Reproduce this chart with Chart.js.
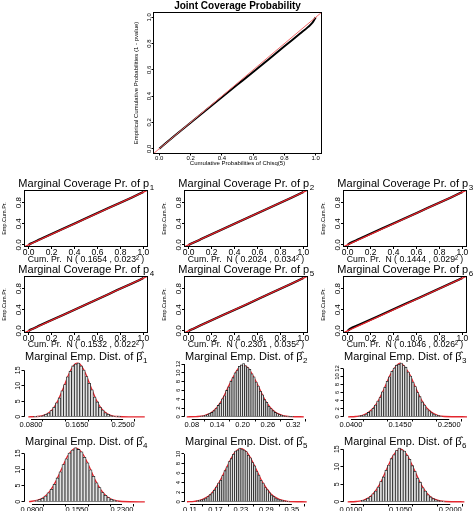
<!DOCTYPE html>
<html>
<head>
<meta charset="utf-8">
<script src="https://cdn.jsdelivr.net/npm/chart.js@4.4.1/dist/chart.umd.min.js"></script>
<style>
  body { margin: 0; background: #fff; width: 474px; height: 511px; position: relative; overflow: hidden; }
  .p { position: absolute; }
</style>
</head>
<body>
<script>
// ---- data ----
const jointCumX = [0, 0.1, 0.2, 0.3, 0.4, 0.5, 0.6, 0.7, 0.8, 0.9, 0.95, 0.98, 1.0];
const jointEmpY = [0, 0.1, 0.198, 0.295, 0.392, 0.488, 0.584, 0.681, 0.779, 0.876, 0.925, 0.96, 1.0];
const refLine = [-0.04, 1.04];
const unitTicks = [0, 0.2, 0.4, 0.6, 0.8, 1.0];
const covYTicks = [0, 0.4, 0.8];

const covCumX = [0, 0.02, 0.1, 0.3, 0.5, 0.7, 0.9, 1.0];
const covEmp1 = [0, 0.025, 0.105, 0.305, 0.503, 0.702, 0.9, 1.0];
const covEmp2 = [0, 0.02, 0.1, 0.3, 0.5, 0.7, 0.9, 1.0];
const covEmp3 = [0, 0.03, 0.11, 0.31, 0.505, 0.703, 0.9, 1.0];
const covEmp4 = [0, 0.025, 0.105, 0.303, 0.502, 0.701, 0.9, 1.0];
const covEmp5 = [0, 0.02, 0.1, 0.302, 0.497, 0.7, 0.9, 1.0];
const covEmp6 = [0, 0.035, 0.115, 0.312, 0.508, 0.705, 0.902, 1.0];
const covSubs = ['1', '2', '3', '4', '5', '6'];
const covXLabels = [
  'Cum. Pr.  N ( 0.1654 , 0.023² )', 'Cum. Pr.  N ( 0.2024 , 0.034² )', 'Cum. Pr.  N ( 0.1444 , 0.029² )',
  'Cum. Pr.  N ( 0.1532 , 0.022² )', 'Cum. Pr.  N ( 0.2301 , 0.035² )', 'Cum. Pr.  N ( 0.1046 , 0.026² )'
];

const binWidth = 0.005;
const histStart = [0.085, 0.10, 0.055, 0.085, 0.125, 0.03];
const hist1Counts = [0.05,0.1,0.2,0.4,0.8,1.2,2.0,3.1,4.5,6.1,8.4,10.4,12.9,14.7,16.4,17.0,17.3,16.4,15.1,13.0,10.8,8.7,6.4,4.8,3.1,2.2,1.3,0.8,0.4,0.25,0.1,0.05];
const hist2Counts = [0.15,0.25,0.35,0.5,0.8,1.0,1.4,1.9,2.6,3.1,4.1,4.8,6.0,6.8,8.1,8.9,10.0,10.5,11.5,11.8,12.1,11.6,11.2,10.8,9.8,9.1,7.9,7.0,5.8,5.0,3.9,3.3,2.4,1.9,1.4,1.0,0.75,0.5,0.35,0.25,0.15,0.1,0.06,0.04];
const hist3Counts = [0.2,0.3,0.45,0.7,1.1,1.5,2.1,2.9,3.9,4.8,6.2,7.3,8.8,9.9,11.3,12.1,12.8,13.0,13.3,12.7,12.3,11.1,10.1,8.6,7.5,6.0,5.0,3.7,2.9,2.0,1.5,1.0,0.7,0.45,0.3,0.2];
const hist4Counts = [0.4,0.7,1.1,1.8,2.8,3.9,5.4,7.4,9.3,11.5,13.3,15.1,16.0,16.7,16.2,15.5,13.8,12.1,9.9,7.9,5.9,4.4,2.9,2.0,1.3,0.8,0.45,0.25];
const hist5Counts = [0.2,0.3,0.4,0.6,0.8,1.1,1.5,1.9,2.4,3.1,3.9,4.5,5.5,6.5,7.3,8.4,9.0,9.9,10.6,10.8,11.2,11.0,10.8,10.5,9.7,9.2,8.2,7.5,6.3,5.6,4.5,3.9,3.0,2.5,1.9,1.4,1.1,0.8,0.6,0.4,0.3,0.2,0.13,0.08];
const hist6Counts = [0.4,0.6,1.0,1.5,2.3,3.1,4.2,5.8,7.1,9.0,10.5,12.3,13.4,14.6,15.3,14.8,14.5,13.2,12.1,10.3,8.7,6.8,5.6,4.0,3.1,2.0,1.4,0.9,0.6,0.35,0.2,0.1];

const curve1X = [0.075,0.09,0.10,0.11,0.12,0.13,0.14,0.15,0.16,0.165,0.17,0.18,0.19,0.20,0.21,0.22,0.23,0.24,0.26,0.29];
const curve1Y = [0.0,0.08,0.31,0.95,2.4,5.3,9.4,13.8,16.8,17.3,17.0,14.2,9.8,5.6,2.6,1.05,0.33,0.09,0.0,0.0];
const curve2X = [0.068,0.09,0.11,0.13,0.15,0.17,0.19,0.2024,0.215,0.235,0.255,0.275,0.295,0.315,0.345];
const curve2Y = [0.0,0.05,0.29,1.2,3.6,7.5,11.0,11.7,10.9,7.4,3.5,1.2,0.29,0.05,0.0];
const curve3X = [0.034,0.05,0.065,0.08,0.095,0.11,0.125,0.145,0.165,0.18,0.195,0.21,0.225,0.24,0.288];
const curve3Y = [0.0,0.09,0.37,1.3,3.3,6.7,10.6,13.3,10.6,6.7,3.3,1.3,0.37,0.09,0.0];
const curve4X = [0.075,0.09,0.10,0.11,0.12,0.13,0.14,0.1532,0.165,0.175,0.185,0.195,0.205,0.215,0.23,0.268];
const curve4Y = [0.08,0.52,1.4,3.3,6.4,10.4,14.3,16.6,14.7,11.0,6.8,3.6,1.6,0.6,0.1,0.0];
const curve5X = [0.103,0.12,0.14,0.16,0.18,0.20,0.215,0.23,0.245,0.26,0.28,0.30,0.32,0.34,0.385];
const curve5Y = [0.02,0.1,0.49,1.66,4.2,7.8,10.2,11.1,10.2,7.9,4.2,1.7,0.49,0.11,0.0];
const curve6X = [0.004,0.02,0.035,0.05,0.065,0.08,0.092,0.1046,0.117,0.13,0.145,0.16,0.175,0.19,0.227];
const curve6Y = [0.0,0.1,0.48,1.8,4.9,9.8,13.4,15.0,13.4,9.5,4.7,1.7,0.45,0.09,0.0];

const histXTicks = [
  [0.08, 0.1225, 0.165, 0.2075, 0.25], [0.08, 0.14, 0.20, 0.26, 0.32], [0.04, 0.0925, 0.145, 0.1975, 0.25],
  [0.08, 0.1175, 0.155, 0.1925, 0.23], [0.11, 0.17, 0.23, 0.29, 0.35], [0.01, 0.0575, 0.105, 0.1525, 0.2]
];
const histXDigits = [4, 2, 4, 4, 2, 4];
const histXEvery = [2, 1, 2, 2, 1, 2];
const histXRange = [[0.067, 0.296], [0.0615, 0.355], [0.023, 0.288], [0.0667, 0.2733], [0.096, 0.388], [-0.005, 0.232]];
const histYTicks = [[0, 5, 10, 15], [0, 2, 4, 6, 8, 10, 12], [0, 2, 4, 6, 8, 10, 12], [0, 5, 10, 15], [0, 2, 4, 6, 8, 10], [0, 5, 10, 15]];
const histYMax = [17.3, 12.2, 13.3, 16.6, 11.2, 15.3];

// ---- layout ----
const FAM = '"Liberation Sans", Arial, Helvetica, sans-serif';
const f = (s, b) => (b ? 'bold ' : '') + s + 'px ' + FAM;
const colLeft = [24, 184, 343];
const PW = 124;

const rdeco = {
  id: 'rdeco',
  afterDraw(chart, args, o) {
    const { ctx, chartArea: a, scales: { x, y } } = chart;
    ctx.save();
    ctx.strokeStyle = '#000';
    ctx.fillStyle = '#000';
    ctx.lineWidth = 1;
    if (o.box) {
      ctx.strokeRect(Math.round(a.left) + 0.5, Math.round(a.top) + 0.5, Math.round(a.right - a.left) - 1, Math.round(a.bottom - a.top) - 1);
    } else {
      const xt = o.xTicks, yt = o.yTicks;
      const by = Math.round(a.bottom) + 0.5, lx = Math.round(a.left) + 0.5;
      ctx.beginPath();
      ctx.moveTo(x.getPixelForValue(xt[0]), by);
      ctx.lineTo(x.getPixelForValue(xt[xt.length - 1]), by);
      ctx.moveTo(lx, y.getPixelForValue(yt[0]));
      ctx.lineTo(lx, y.getPixelForValue(yt[yt.length - 1]));
      ctx.stroke();
    }
    // rotated y tick labels
    ctx.font = o.yTickFont;
    ctx.textAlign = 'center';
    ctx.textBaseline = 'alphabetic';
    o.yTicks.forEach(v => {
      ctx.save();
      ctx.translate(a.left - o.yTickGap, y.getPixelForValue(v));
      ctx.rotate(-Math.PI / 2);
      ctx.fillText(o.yFmt(v), 0, 0);
      ctx.restore();
    });
    // title (with optional subscript)
    const t = o.title;
    const cx = (a.left + a.right) / 2;
    ctx.font = t.font;
    const w1 = ctx.measureText(t.text).width;
    let w2 = 0;
    if (t.sub) { ctx.font = t.subFont; w2 = ctx.measureText(t.sub).width; }
    const x0 = cx - (w1 + w2) / 2;
    ctx.textAlign = 'left';
    ctx.font = t.font;
    ctx.fillText(t.text, x0, a.top + t.dy);
    if (t.sub) { ctx.font = t.subFont; ctx.fillText(t.sub, x0 + w1 + 0.5, a.top + t.dy + 2.5); }
    if (o.xlabel) {
      ctx.font = o.xlabel.font;
      ctx.textAlign = 'center';
      ctx.textBaseline = 'middle';
      ctx.fillText(o.xlabel.text, cx, a.bottom + o.xlabel.dy);
    }
    if (o.ylabel) {
      ctx.font = o.ylabel.font;
      ctx.textAlign = 'center';
      ctx.textBaseline = 'middle';
      ctx.save();
      ctx.translate(a.left + o.ylabel.dx, (a.top + a.bottom) / 2);
      ctx.rotate(-Math.PI / 2);
      ctx.fillText(o.ylabel.text, 0, 0);
      ctx.restore();
    }
    ctx.restore();
  }
};

function place(box, m) {
  const div = document.createElement('div');
  div.className = 'p';
  div.style.left = (box[0] - m[3]) + 'px';
  div.style.top = (box[1] - m[0]) + 'px';
  const c = document.createElement('canvas');
  c.width = box[2] + m[1] + m[3];
  c.height = box[3] + m[0] + m[2];
  c.style.width = c.width + 'px';
  c.style.height = c.height + 'px';
  div.appendChild(c);
  document.body.appendChild(div);
  return c;
}

function axis(horiz, size, ticks, min, max, tickLen, tickOpts) {
  return {
    type: 'linear', min, max, offset: false,
    afterBuildTicks: s => { s.ticks = ticks.map(v => ({ value: v })); },
    afterFit: s => {
      if (horiz) { s.height = size; s.paddingLeft = 0; s.paddingRight = 0; }
      else { s.width = size; s.paddingTop = 0; s.paddingBottom = 0; }
    },
    border: { display: false },
    grid: { drawOnChartArea: false, drawTicks: true, tickLength: tickLen, color: '#000', lineWidth: 1 },
    ticks: Object.assign({ display: horiz, color: '#000', autoSkip: false, maxRotation: 0 }, tickOpts || {})
  };
}

function opts(m, xs, ys, deco) {
  return {
    responsive: false, animation: false, events: [],
    layout: { padding: { top: m[0], right: m[1], bottom: 0, left: 0 } },
    plugins: { legend: { display: false }, tooltip: { enabled: false }, rdeco: deco },
    scales: { x: xs, y: ys }
  };
}

const pts = (xs, ys) => xs.map((v, i) => ({ x: v, y: ys[i] }));

// ---- joint coverage ----
{
  const m = [14, 10, 22, 24];
  const c = place([153, 12, 169, 142], m);
  new Chart(c, {
    type: 'line',
    data: { datasets: [
      { data: pts(refLine, refLine), borderColor: '#f06a6a', borderWidth: 1, pointRadius: 0 },
      { data: pts(jointCumX, jointEmpY), borderColor: '#000', borderWidth: 2, pointRadius: 0, cubicInterpolationMode: 'monotone' }
    ] },
    options: opts(m,
      axis(true, m[2], unitTicks, -0.04, 1.04, 1.5, { font: { size: 6, family: FAM }, padding: -1, callback: v => v.toFixed(1) }),
      axis(false, m[3], unitTicks, -0.04, 1.04, 1.5),
      { box: true, yTicks: unitTicks, yFmt: v => v.toFixed(1), yTickFont: f(6), yTickGap: 2,
        title: { text: 'Joint Coverage Probability', font: f(10, true), dy: -3 },
        xlabel: { text: 'Cumulative Probabilities of Chisq(5)', font: f(6), dy: 9 },
        ylabel: { text: 'Empirical Cumulative Probabilities (1 - pvalue)', font: f(6), dx: -17 } }),
    plugins: [rdeco]
  });
}

// ---- marginal coverage ----
const covEmp = [covEmp1, covEmp2, covEmp3, covEmp4, covEmp5, covEmp6];
const covTop = [190, 276];
covEmp.forEach((emp, k) => {
  const r = Math.floor(k / 3), col = k % 3;
  const m = [16, 18, 20, 24];
  const c = place([colLeft[col], covTop[r], PW, 57], m);
  new Chart(c, {
    type: 'line',
    data: { datasets: [
      { data: pts(refLine, refLine), borderColor: '#e8222a', borderWidth: 1.2, pointRadius: 0 },
      { data: pts(covCumX, emp), borderColor: '#000', borderWidth: 2.2, pointRadius: 0, cubicInterpolationMode: 'monotone' }
    ] },
    options: opts(m,
      axis(true, m[2], unitTicks, -0.04, 1.04, 2, { font: { size: 8.5, family: FAM }, padding: -1, callback: v => v.toFixed(1) }),
      axis(false, m[3], covYTicks, -0.04, 1.04, 2),
      { box: true, yTicks: covYTicks, yFmt: v => v.toFixed(1), yTickFont: f(8), yTickGap: 3,
        title: { text: 'Marginal Coverage Pr. of p', sub: covSubs[k], font: f(11), subFont: f(8), dy: -3 },
        xlabel: { text: covXLabels[k], font: f(8.7), dy: r === 0 ? 13 : 12 },
        ylabel: { text: 'Emp.Cum.Pr.', font: f(5.5), dx: -20 } }),
    plugins: [rdeco]
  });
});

// ---- marginal empirical distributions ----
const histCounts = [hist1Counts, hist2Counts, hist3Counts, hist4Counts, hist5Counts, hist6Counts];
const curveX = [curve1X, curve2X, curve3X, curve4X, curve5X, curve6X];
const curveY = [curve1Y, curve2Y, curve3Y, curve4Y, curve5Y, curve6Y];
const histTop = [361, 446];
histCounts.forEach((counts, k) => {
  const r = Math.floor(k / 3), col = k % 3;
  const m = [14, 18, 12, 24];
  const c = place([colLeft[col], histTop[r], PW, 58], m);
  const bars = counts.map((h, i) => ({ x: histStart[k] + binWidth * (i + 0.5), y: h }));
  const xt = histXTicks[k];
  const yt = histYTicks[k];
  const ymax = histYMax[k];
  new Chart(c, {
    type: 'bar',
    data: { datasets: [
      { type: 'bar', data: bars, backgroundColor: '#e2e2e2', borderColor: '#222', borderWidth: 0.8,
        borderSkipped: false, barPercentage: 1, categoryPercentage: 1 },
      { type: 'line', data: pts(curveX[k], curveY[k]), borderColor: '#e3262e', borderWidth: 1.4, pointRadius: 0,
        cubicInterpolationMode: 'monotone' }
    ] },
    options: opts(m,
      axis(true, m[2], xt, histXRange[k][0], histXRange[k][1], 2.5, { font: { size: 7.5, family: FAM }, padding: -1,
        callback: (v, i) => (i % histXEvery[k] === 0 ? v.toFixed(histXDigits[k]) : '') }),
      axis(false, m[3], yt, -0.04 * ymax, 1.04 * ymax, 2.5),
      { box: false, xTicks: xt, yTicks: yt, yFmt: v => String(v), yTickFont: f(yt.length > 4 ? 6 : 7), yTickGap: 4,
        title: { text: 'Marginal Emp. Dist. of β\u0302', sub: String(k + 1), font: f(11), subFont: f(8), dy: -1 } }),
    plugins: [rdeco]
  });
});
</script>
</body>
</html>
